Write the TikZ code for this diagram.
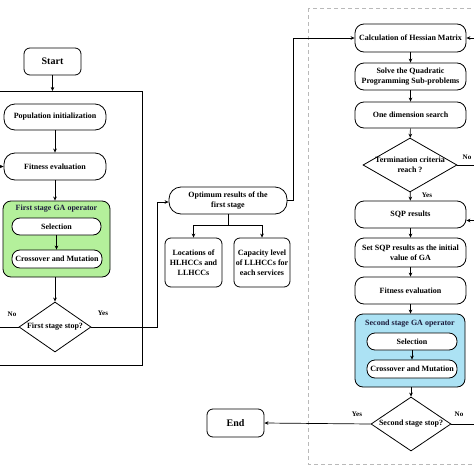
\documentclass[tikz,border=0pt]{standalone}
\usepackage{fontspec}
\setmainfont{Liberation Serif}
\usetikzlibrary{shapes.geometric,arrows.meta}
\definecolor{gafill}{RGB}{180,240,155}
\definecolor{bfill}{RGB}{172,226,244}
\definecolor{ttl}{RGB}{28,28,60}
\definecolor{dashc}{RGB}{185,185,185}
\begin{document}
\begin{tikzpicture}[x=1pt,y=-1pt,
  every node/.style={font=\bfseries\fontsize{8}{10}\selectfont},
  box/.style={draw, line width=0.8pt, rounded corners=9pt, align=center, inner sep=0pt},
  smallbox/.style={box, rounded corners=6pt},
  pill/.style={box, fill=white, rounded corners=8pt},
  grp/.style={draw, line width=0.8pt, rounded corners=8pt, inner sep=0pt},
  dia/.style={draw, diamond, line width=0.8pt, inner sep=0pt, fill=white},
  arr/.style={-{Stealth[length=4pt,width=3.6pt]}, line width=0.7pt},
  ln/.style={line width=0.7pt},
  lbl/.style={font=\bfseries\fontsize{7}{8}\selectfont, inner sep=0pt},
  ttlstyle/.style={text=ttl, inner sep=0pt}
]
\useasboundingbox (0,0) rectangle (474,474);
\clip (0,0) rectangle (474,474);

% frames
\draw[ln] (-10,91) rectangle (142,365);
\draw[dashed, dashc, line width=0.7pt, dash pattern=on 4pt off 3pt] (308,8) rectangle (490,464);

% left column
\node[smallbox, minimum width=57pt, minimum height=27pt, font=\bfseries\fontsize{10}{12}\selectfont] (start) at (52.5,61.5) {Start};
\coordinate (ftop) at (52.5,91);
\node[box, rounded corners=11pt, minimum width=102pt, minimum height=26pt] (pop) at (55,117) {Population initialization};
\node[box, rounded corners=11pt, minimum width=102pt, minimum height=27pt] (fit1) at (55,166.5) {Fitness evaluation};
\node[grp, fill=gafill, minimum width=107pt, minimum height=76pt] (ga1) at (56.5,239) {};
\node[ttlstyle] (t1) at (56.5,208.5) {First stage GA operator};
\node[pill, minimum width=89pt, minimum height=17pt] (sel1) at (56.5,226.5) {Selection};
\node[pill, minimum width=90pt, minimum height=18pt] (cro1) at (57,259) {Crossover and Mutation};
\node[dia, minimum width=72pt, minimum height=50pt, label={[inner sep=0pt]center:First stage stop?}] (d1) at (55,327) {};
\node[lbl] (no1) at (12,314) {No};
\node[lbl] (yes1) at (103,313) {Yes};
\coordinate (yj) at (157,327);

% middle
\node[box, rounded corners=12pt, minimum width=118pt, minimum height=27pt] (opt) at (228,200.5) {Optimum results of the\\first stage};
\node[smallbox, minimum width=57pt, minimum height=49pt] (loc) at (193.5,262.5) {Locations of\\HLHCCs and\\LLHCCs};
\node[smallbox, minimum width=56pt, minimum height=49pt] (cap) at (262,262.5) {Capacity level\\of LLHCCs for\\each services};

% right column
\node[box, minimum width=111pt, minimum height=28pt] (calc) at (410.5,38) {Calculation of Hessian Matrix};
\node[box, minimum width=111pt, minimum height=27pt] (qp) at (410.5,76.5) {Solve the Quadratic\\Programming Sub-problems};
\node[box, minimum width=111pt, minimum height=26pt] (one) at (410.5,115) {One dimension search};
\node[dia, minimum width=94pt, minimum height=54pt, label={[inner sep=0pt, align=center]center:Termination criteria\\reach ?}] (term) at (410,165) {};
\node[lbl] (no2) at (467,157) {No};
\node[lbl] (yes2) at (427,195) {Yes};
\node[box, minimum width=111pt, minimum height=27pt] (sqp) at (410.5,214.5) {SQP results};
\node[box, minimum width=111pt, minimum height=29pt] (set) at (410.5,252.5) {Set SQP results as the initial\\value of GA};
\node[box, minimum width=111pt, minimum height=27pt] (fit2) at (410.5,290.5) {Fitness evaluation};
\node[grp, fill=bfill, minimum width=110pt, minimum height=73pt] (ga2) at (410,350.5) {};
\node[ttlstyle] (t2) at (410,323.5) {Second stage GA operator};
\node[pill, minimum width=90pt, minimum height=17pt] (sel2) at (412,341.5) {Selection};
\node[pill, minimum width=90pt, minimum height=18pt] (cro2) at (412,369) {Crossover and Mutation};
\node[dia, minimum width=80pt, minimum height=54pt, label={[inner sep=0pt]center:Second stage stop?}] (d2) at (411,424) {};
\node[lbl] (yes3) at (357,414) {Yes};
\node[lbl] (no3) at (459,414) {No};
\node[smallbox, minimum width=57pt, minimum height=28pt, font=\bfseries\fontsize{10}{12}\selectfont] (end) at (235.5,423) {End};

% connectors left
\draw[arr] (start) -- (ftop);
\draw[arr] (pop) -- (fit1);
\draw[arr] (fit1) -- (fit1.south |- ga1.north);
\draw[arr] (sel1) -- (sel1.south |- cro1.north);
\draw[arr] (ga1.south -| d1.north) -- (d1.north);
\draw[arr] (d1.west) -- ++(-30,0) |- (fit1.west);
\draw[arr] (d1.east) -- (yj) |- ([yshift=-1.5pt]opt.west);
\draw[arr] (opt.east) -- ++(6,0) |- (calc.west);
\draw[ln] (opt.south) -- ++(0,11) coordinate (br);
\draw[arr] (br) -| (loc.north);
\draw[arr] (br) -| (cap.north);

% connectors right
\draw[arr] (calc) -- (qp);
\draw[arr] (qp) -- (one);
\draw[arr] (one) -- (term);
\draw[arr] (term) -- (sqp);
\draw[arr] (term.east) -- ++(30,0) |- (calc.east);
\draw[arr] (sqp) -- (set);
\draw[arr] (set) -- (fit2);
\draw[arr] (fit2) -- (fit2.south |- ga2.north);
\draw[arr] (sel2) -- (sel2.south |- cro2.north);
\draw[arr] (ga2.south -| d2.north) -- (d2.north);
\draw[arr] (d2.west) -- (end.east);
\draw[arr] (d2.east) -- ++(40,0) |- ([yshift=-6pt]sqp.east);
\end{tikzpicture}
\end{document}
